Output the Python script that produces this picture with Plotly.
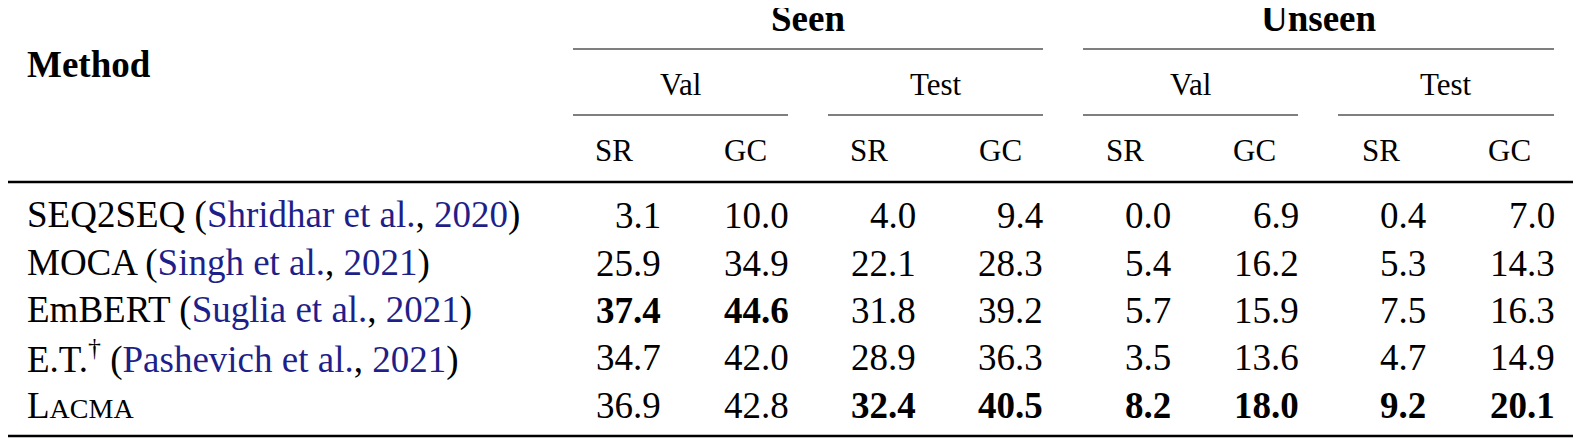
import plotly.graph_objects as go

methods = ["SEQ2SEQ", "MOCA", "EmBERT", "E.T.", "LACMA"]
citations = ["Shridhar et al.", "Singh et al.", "Suglia et al.", "Pashevich et al.", ""]
years = ["2020", "2021", "2021", "2021", ""]
groups = ["Seen", "Unseen"]
splits = ["Val", "Test", "Val", "Test"]
metrics = ["SR", "GC"] * 4
values = [
    [3.1, 10.0, 4.0, 9.4, 0.0, 6.9, 0.4, 7.0],
    [25.9, 34.9, 22.1, 28.3, 5.4, 16.2, 5.3, 14.3],
    [37.4, 44.6, 31.8, 39.2, 5.7, 15.9, 7.5, 16.3],
    [34.7, 42.0, 28.9, 36.3, 3.5, 13.6, 4.7, 14.9],
    [36.9, 42.8, 32.4, 40.5, 8.2, 18.0, 9.2, 20.1],
]

W, H = 1581, 440
FONT = "Liberation Serif"
NAVY = "#1f1f8a"
OFF = -6
col_right = [654, 782, 909, 1036, 1164, 1292, 1419, 1548]
col_center = [606, 737, 861, 992, 1117, 1246, 1373, 1501]
row_y = [213, 261, 308, 355, 403]
ROW = 37
SUB = 31

fig = go.Figure()
ann = []
shapes = []

def text(x, y, t, size, anchor="center", bold=False):
    if bold:
        t = "<b>" + t + "</b>"
    ann.append(dict(x=x, y=y + OFF, text=t, showarrow=False, xanchor=anchor, yanchor="middle",
                    borderpad=0, font=dict(family=FONT, size=size, color="black")))

def line(x0, x1, y, w):
    shapes.append(dict(type="line", x0=x0, x1=x1, y0=y + OFF, y1=y + OFF,
                       line=dict(color="black", width=w)))

text(18, 62, "Method", ROW, "left", True)
group_spans = [(565, 1035), (1075, 1546)]
for g, (a, b) in zip(groups, group_spans):
    text((a + b) / 2, 16, g, ROW, bold=True)
    line(a, b, 47, 1.2)
split_spans = [(565, 780), (820, 1035), (1075, 1290), (1330, 1546)]
for s, (a, b) in zip(splits, split_spans):
    text((a + b) / 2, 82, s, SUB)
    line(a, b, 113, 1.2)
for m, cx in zip(metrics, col_center):
    text(cx, 148, m, SUB)
line(0, 1565, 180, 2.5)
line(0, 1565, 434, 2.5)

col_max = [max(r[j] for r in values) for j in range(8)]
for i, (m, c, yr) in enumerate(zip(methods, citations, years)):
    if m == "LACMA":
        label = "L<span style='font-size:28px'>ACMA</span>"
    elif m == "E.T.":
        label = m + "<sup>†</sup>"
    else:
        label = m
    if c:
        label += (" (<span style='color:%s'>%s</span>, <span style='color:%s'>%s</span>)"
                  % (NAVY, c, NAVY, yr))
    text(18, row_y[i], label, ROW, "left")
    for j, v in enumerate(values[i]):
        text(col_right[j], row_y[i], f"{v:.1f}", ROW, "right", bold=(v == col_max[j]))

fig.update_layout(
    width=W, height=H, margin=dict(l=0, r=0, t=0, b=0),
    paper_bgcolor="white", plot_bgcolor="white",
    xaxis=dict(range=[0, W], visible=False, fixedrange=True),
    yaxis=dict(range=[H, 0], visible=False, fixedrange=True),
    annotations=ann, shapes=shapes, showlegend=False,
)
fig.write_html("out.html", config={"displayModeBar": False})
